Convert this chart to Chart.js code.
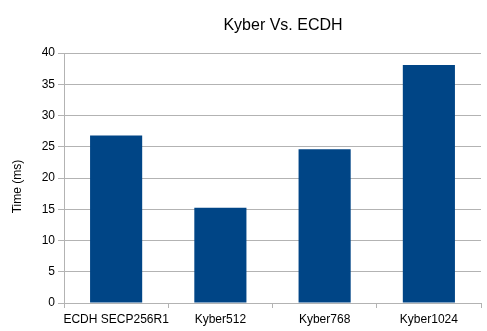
<!DOCTYPE html>
<html>
<head>
<meta charset="utf-8">
<script src="https://cdn.jsdelivr.net/npm/chart.js@4/dist/chart.umd.min.js"></script>
<style>
  html, body { margin: 0; padding: 0; background: #ffffff; }
  #wrap { width: 487px; height: 331px; position: relative; }
</style>
</head>
<body>
<div id="wrap"><canvas id="chart" width="487" height="331"></canvas></div>
<script>
// Key-exchange timings
const categories = ['ECDH SECP256R1', 'Kyber512', 'Kyber768', 'Kyber1024'];
const timesMs = [26.8, 15.25, 24.6, 38.1];
const yTicks = [0, 5, 10, 15, 20, 25, 30, 35, 40];

const chartTitle = 'Kyber Vs. ECDH';
const yAxisTitle = 'Time (ms)';

const FONT = '"Liberation Sans", Arial, sans-serif';
const GRID = '#b3b3b3';
const BAR = '#004586';

// Title and axis caption drawn at fixed spots around the plot
const captions = {
  id: 'captions',
  afterDraw(chart) {
    const ctx = chart.ctx;
    ctx.save();
    ctx.fillStyle = '#000000';
    ctx.textAlign = 'center';
    ctx.textBaseline = 'alphabetic';
    ctx.font = '16px ' + FONT;
    ctx.fillText(chartTitle, 283, 30);

    ctx.translate(17.5, 186.5);
    ctx.rotate(-Math.PI / 2);
    ctx.textBaseline = 'middle';
    ctx.font = '12px ' + FONT;
    ctx.fillText(yAxisTitle, 0, 0);
    ctx.restore();
  }
};

new Chart(document.getElementById('chart'), {
  type: 'bar',
  data: {
    labels: categories,
    datasets: [{
      data: timesMs,
      backgroundColor: BAR,
      borderWidth: 0,
      barPercentage: 0.5,
      categoryPercentage: 1.0
    }]
  },
  options: {
    responsive: false,
    animation: false,
    devicePixelRatio: 1,
    layout: { padding: { top: 53, right: 6, left: 0, bottom: 0 } },
    plugins: {
      legend: { display: false },
      title: { display: false },
      tooltip: { enabled: false }
    },
    scales: {
      x: {
        offset: true,
        afterFit(scale) { scale.height = 28; },
        grid: {
          offset: true,
          drawOnChartArea: true,
          color: (c) => (c.index === categories.length ? GRID : 'rgba(0,0,0,0)'),
          tickColor: GRID,
          tickLength: 5,
          lineWidth: 1
        },
        border: { display: true, color: GRID },
        ticks: {
          color: '#000000',
          font: { family: FONT, size: 12 },
          padding: 4,
          maxRotation: 0,
          autoSkip: false
        }
      },
      y: {
        min: yTicks[0],
        max: yTicks[yTicks.length - 1],
        afterFit(scale) { scale.width = 64; },
        afterBuildTicks(scale) { scale.ticks = yTicks.map(v => ({ value: v })); },
        grid: {
          color: GRID,
          tickColor: GRID,
          tickLength: 6,
          lineWidth: 1
        },
        border: { display: true, color: GRID },
        ticks: {
          color: '#000000',
          font: { family: FONT, size: 12 },
          padding: 3
        }
      }
    }
  },
  plugins: [captions]
});
</script>
</body>
</html>
